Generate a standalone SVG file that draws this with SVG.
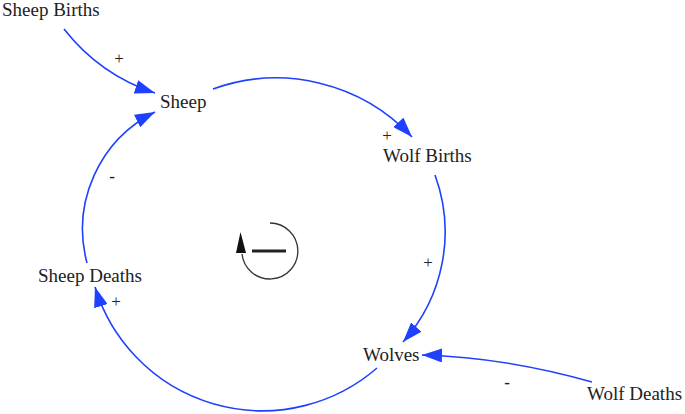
<svg xmlns="http://www.w3.org/2000/svg" width="685" height="414" viewBox="0 0 685 414">
<style>
.lbl{font-family:"Liberation Serif","Times New Roman",serif;font-size:19px;fill:#222}
.sign{font-family:"Liberation Serif","Times New Roman",serif;font-size:17px;fill:#222;text-anchor:middle}
.dash{font-weight:bold}
.link{fill:none;stroke:#2040ff;stroke-width:1.6;marker-end:url(#ah)}
</style>
<defs>
<marker id="ah" markerUnits="userSpaceOnUse" markerWidth="21" markerHeight="14" refX="20" refY="7" orient="auto">
<path d="M0,0 L20,7 L0,14 z" fill="#2040ff"/>
</marker>
</defs>
<rect width="685" height="414" fill="#fff"/>
<g id="connectors">
<path class="link" d="M64,29 Q100,75 155,93"/>
<path class="link" d="M213,89 A186,186 0 0 1 412,137"/>
<path class="link" d="M435,175 A165,165 0 0 1 403,342"/>
<path class="link" d="M377,368 A175,175 0 0 1 95,287"/>
<path class="link" d="M87,263 A131,131 0 0 1 155,112"/>
<path class="link" d="M592,382 Q503,357 422,355"/>
</g>
<g id="signs">
<text class="sign" x="119" y="64">+</text>
<text class="sign" x="387" y="141">+</text>
<text class="sign" x="428" y="268">+</text>
<text class="sign" x="116" y="307">+</text>
<text class="sign dash" x="112" y="182">-</text>
<text class="sign dash" x="507" y="388">-</text>
</g>
<g id="loop">
<path d="M270,223 A28,28 0 1 1 242,254" fill="none" stroke="#333" stroke-width="1.3"/>
<polygon points="236,253 246,253 240.5,232" fill="#111"/>
<line x1="252" y1="251" x2="286" y2="251" stroke="#222" stroke-width="3"/>
</g>
<g id="sheep-births"><text class="lbl" x="2" y="16">Sheep Births</text></g>
<g id="sheep"><text class="lbl" x="160" y="108">Sheep</text></g>
<g id="wolf-births"><text class="lbl" x="383" y="162">Wolf Births</text></g>
<g id="sheep-deaths"><text class="lbl" x="38" y="282">Sheep Deaths</text></g>
<g id="wolves"><text class="lbl" x="363" y="361">Wolves</text></g>
<g id="wolf-deaths"><text class="lbl" x="587" y="400">Wolf Deaths</text></g>
</svg>
